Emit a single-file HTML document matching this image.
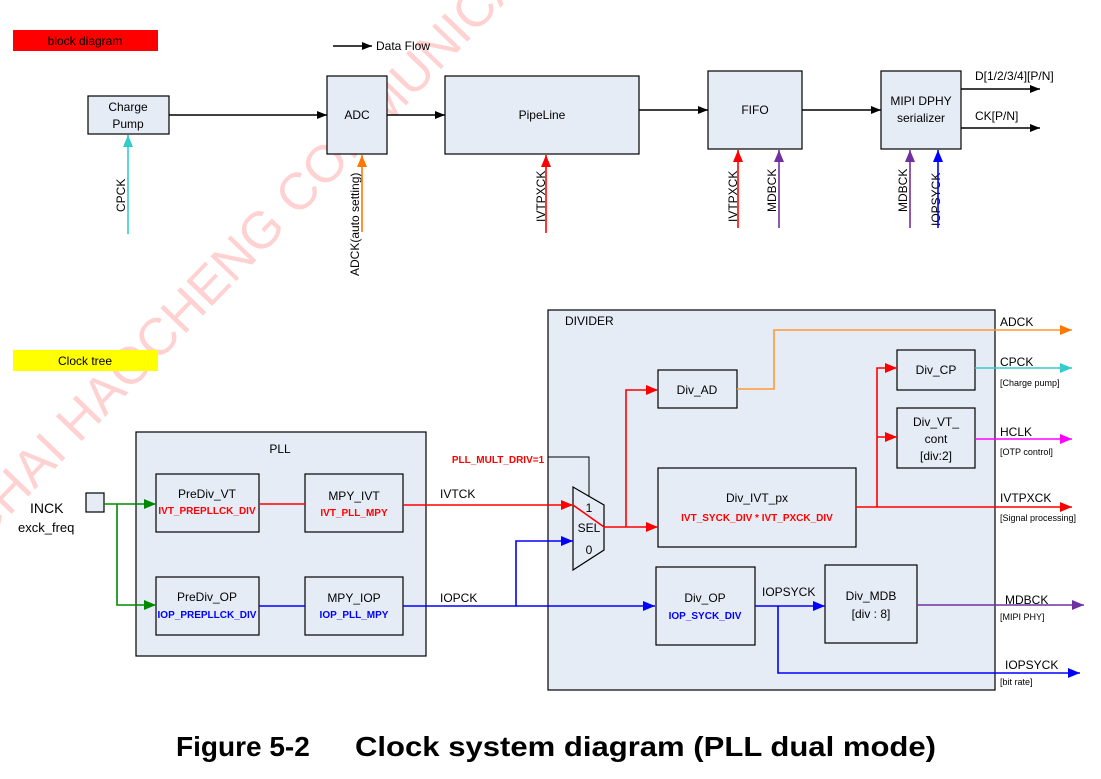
<!DOCTYPE html>
<html><head><meta charset="utf-8"><style>
html,body{margin:0;padding:0;background:#fff;}
svg{display:block;font-family:"Liberation Sans",sans-serif;}
</style></head><body>
<svg width="1101" height="779" viewBox="0 0 1101 779" xmlns="http://www.w3.org/2000/svg">
<defs>
<marker id="ak" markerWidth="10" markerHeight="8" refX="10" refY="4" orient="auto" markerUnits="userSpaceOnUse"><path d="M0,0 L10,4 L0,8z" fill="#000"/></marker>
<marker id="ar" markerWidth="12" markerHeight="10" refX="12" refY="5" orient="auto" markerUnits="userSpaceOnUse"><path d="M0,0 L12,5 L0,10z" fill="#f00"/></marker>
<marker id="ab" markerWidth="12" markerHeight="10" refX="12" refY="5" orient="auto" markerUnits="userSpaceOnUse"><path d="M0,0 L12,5 L0,10z" fill="#00f"/></marker>
<marker id="ag" markerWidth="12" markerHeight="10" refX="12" refY="5" orient="auto" markerUnits="userSpaceOnUse"><path d="M0,0 L12,5 L0,10z" fill="#080"/></marker>
<marker id="ao" markerWidth="12" markerHeight="10" refX="12" refY="5" orient="auto" markerUnits="userSpaceOnUse"><path d="M0,0 L12,5 L0,10z" fill="#f70"/></marker>
<marker id="ac" markerWidth="12" markerHeight="10" refX="12" refY="5" orient="auto" markerUnits="userSpaceOnUse"><path d="M0,0 L12,5 L0,10z" fill="#3cc"/></marker>
<marker id="am" markerWidth="12" markerHeight="10" refX="12" refY="5" orient="auto" markerUnits="userSpaceOnUse"><path d="M0,0 L12,5 L0,10z" fill="#f0f"/></marker>
<marker id="ap" markerWidth="12" markerHeight="10" refX="12" refY="5" orient="auto" markerUnits="userSpaceOnUse"><path d="M0,0 L12,5 L0,10z" fill="#7030a0"/></marker>
</defs>
<g fill="#ff0000" fill-opacity="0.18" font-size="52" font-family="'Liberation Sans',sans-serif">
<text transform="translate(-120,650) rotate(-46)">SHANGHAI HAOCHENG COMMUNICATION</text>
</g>
<g fill="#e6ecf6" stroke="#000" stroke-width="1.2">
<rect x="88" y="96" width="81" height="38"/>
<rect x="327" y="76" width="60" height="78"/>
<rect x="445" y="76" width="194" height="78"/>
<rect x="708" y="71" width="94" height="78"/>
<rect x="881" y="71" width="80" height="78"/>
<rect x="136" y="432" width="290" height="224"/>
<rect x="548" y="310" width="447" height="380"/>
<rect x="156" y="474" width="103" height="58"/>
<rect x="305" y="474" width="98" height="58"/>
<rect x="156" y="577" width="103" height="58"/>
<rect x="305" y="577" width="98" height="58"/>
<rect x="86" y="493" width="18" height="19"/>
<rect x="658" y="370" width="79" height="38"/>
<rect x="658" y="468" width="198" height="79"/>
<rect x="897" y="350" width="78" height="40"/>
<rect x="897" y="408" width="78" height="60"/>
<rect x="656" y="567" width="99" height="78"/>
<rect x="825" y="565" width="92" height="78"/>
<path d="M573,487 L604,505 L604,550 L573,570z"/>
</g>
<rect x="13" y="30" width="145" height="21" fill="#f00"/>
<rect x="13" y="350" width="145" height="21" fill="#ff0"/>
<g font-size="12" fill="#000" text-anchor="middle">
<text x="85" y="45">block diagram</text>
<text x="85" y="365">Clock tree</text>
<text x="128" y="111">Charge</text><text x="128" y="128">Pump</text>
<text x="357" y="119">ADC</text>
<text x="542" y="119">PipeLine</text>
<text x="755" y="114">FIFO</text>
<text x="921" y="105">MIPI DPHY</text><text x="921" y="122">serializer</text>
<text x="280" y="453">PLL</text>
<text x="207" y="498">PreDiv_VT</text>
<text x="354" y="500">MPY_IVT</text>
<text x="207" y="601">PreDiv_OP</text>
<text x="354" y="602">MPY_IOP</text>
<text x="697" y="394">Div_AD</text>
<text x="757" y="502">Div_IVT_px</text>
<text x="936" y="374">Div_CP</text>
<text x="936" y="426">Div_VT_</text><text x="936" y="443">cont</text><text x="936" y="460">[div:2]</text>
<text x="705" y="602">Div_OP</text>
<text x="871" y="600">Div_MDB</text><text x="871" y="618">[div : 8]</text>
<text x="589" y="512">1</text><text x="589" y="532">SEL</text><text x="589" y="554">0</text>
</g>
<g font-size="10" font-weight="bold" text-anchor="middle">
<text x="207" y="514" fill="#f00">IVT_PREPLLCK_DIV</text>
<text x="354" y="516" fill="#f00">IVT_PLL_MPY</text>
<text x="207" y="618" fill="#00f">IOP_PREPLLCK_DIV</text>
<text x="354" y="618" fill="#00f">IOP_PLL_MPY</text>
<text x="757" y="521" fill="#f00">IVT_SYCK_DIV  * IVT_PXCK_DIV</text>
<text x="705" y="619" fill="#00f">IOP_SYCK_DIV</text>
<text x="498" y="463" fill="#f00">PLL_MULT_DRIV=1</text>
</g>
<g font-size="12" fill="#000">
<text x="376" y="50">Data Flow</text>
<text x="975" y="80">D[1/2/3/4][P/N]</text>
<text x="975" y="120">CK[P/N]</text>
<text x="565" y="325">DIVIDER</text>
<text x="440" y="498">IVTCK</text>
<text x="440" y="602">IOPCK</text>
<text x="762" y="596">IOPSYCK</text>
<text x="1000" y="326">ADCK</text>
<text x="1000" y="366">CPCK</text>
<text x="1000" y="436">HCLK</text>
<text x="1000" y="502">IVTPXCK</text>
<text x="1005" y="604">MDBCK</text>
<text x="1005" y="669">IOPSYCK</text>
<text x="30" y="513" font-size="14">INCK</text>
<text x="18" y="532" font-size="13">exck_freq</text>
</g>
<g font-size="9" fill="#000">
<text x="1000" y="386">[Charge pump]</text>
<text x="1000" y="455">[OTP control]</text>
<text x="1000" y="521">[Signal processing]</text>
<text x="1000" y="620">[MIPI PHY]</text>
<text x="1000" y="685">[bit rate]</text>
</g>
<g font-size="12" fill="#000">
<text transform="translate(125,212) rotate(-90)">CPCK</text>
<text transform="translate(359,276) rotate(-90)">ADCK(auto setting)</text>
<text transform="translate(545,222) rotate(-90)">IVTPXCK</text>
<text transform="translate(737,222) rotate(-90)">IVTPXCK</text>
<text transform="translate(776,212) rotate(-90)">MDBCK</text>
<text transform="translate(907,212) rotate(-90)">MDBCK</text>
<text transform="translate(940,226) rotate(-90)">IOPSYCK</text>
</g>
<g fill="none" stroke-width="1.6">
<path d="M333,46 H372" stroke="#000" marker-end="url(#ak)"/>
<path d="M169,115 H327" stroke="#000" marker-end="url(#ak)"/>
<path d="M387,115 H445" stroke="#000" marker-end="url(#ak)"/>
<path d="M639,110 H708" stroke="#000" marker-end="url(#ak)"/>
<path d="M802,110 H881" stroke="#000" marker-end="url(#ak)"/>
<path d="M961,89 H1040" stroke="#000" marker-end="url(#ak)"/>
<path d="M961,128 H1040" stroke="#000" marker-end="url(#ak)"/>
<path d="M128,234 V135" stroke="#3cc" marker-end="url(#ac)"/>
<path d="M362,232 V155" stroke="#f70" marker-end="url(#ao)"/>
<path d="M546,233 V155" stroke="#f00" marker-end="url(#ar)"/>
<path d="M738,228 V150" stroke="#f00" marker-end="url(#ar)"/>
<path d="M779,228 V150" stroke="#7030a0" marker-end="url(#ap)"/>
<path d="M910,228 V150" stroke="#7030a0" marker-end="url(#ap)"/>
<path d="M938,228 V150" stroke="#00f" marker-end="url(#ab)"/>
<path d="M104,504 H156" stroke="#080" marker-end="url(#ag)"/>
<path d="M117,504 V605 H156" stroke="#080" marker-end="url(#ag)"/>
<path d="M259,504 H305" stroke="#f00"/>
<path d="M403,505 H573" stroke="#f00" marker-end="url(#ar)"/>
<path d="M259,606 H305" stroke="#00f"/>
<path d="M403,606 H655" stroke="#00f" marker-end="url(#ab)"/>
<path d="M516,606 V541 H573" stroke="#00f" marker-end="url(#ab)"/>
<path d="M548,457 H589 V497" stroke="#000" stroke-width="1"/>
<path d="M573,505 L604,527 H658" stroke="#f00" marker-end="url(#ar)"/>
<path d="M626,527 V390 H658" stroke="#f00" marker-end="url(#ar)"/>
<path d="M737,389 H774 V330 H1072" stroke="#f93" marker-end="url(#ao)"/>
<path d="M856,507 H1072" stroke="#f00" marker-end="url(#ar)"/>
<path d="M877,507 V368 H897" stroke="#f00" marker-end="url(#ar)"/>
<path d="M877,437 H897" stroke="#f00" marker-end="url(#ar)"/>
<path d="M975,368 H1072" stroke="#3cc" marker-end="url(#ac)"/>
<path d="M975,439 H1072" stroke="#f0f" marker-end="url(#am)"/>
<path d="M755,606 H825" stroke="#00f" marker-end="url(#ab)"/>
<path d="M778,606 V673 H1080" stroke="#00f" marker-end="url(#ab)"/>
<path d="M917,605 H1084" stroke="#7030a0" marker-end="url(#ap)"/>
</g>
<text x="176" y="756" font-size="28" font-weight="bold" fill="#000">Figure 5-2</text>
<text x="355" y="756" font-size="28" font-weight="bold" fill="#000" textLength="581" lengthAdjust="spacingAndGlyphs">Clock system diagram (PLL dual mode)</text>
</svg>
</body></html>
